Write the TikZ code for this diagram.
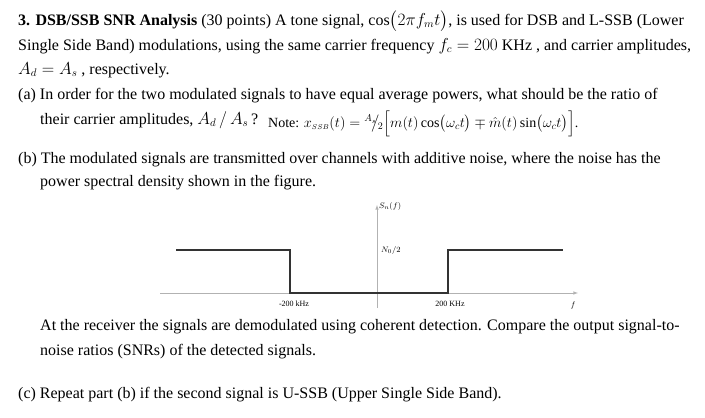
\documentclass[tikz,border=0pt]{standalone}
\usepackage{fontspec}
\setmainfont{Liberation Serif}
\usepackage{amsmath}
\begin{document}
\begin{tikzpicture}[x=1pt,y=-1pt,
  txt/.style={anchor=base west,inner sep=0pt,font=\fontsize{16}{19}\selectfont},
  sm/.style={inner sep=1pt,font=\fontsize{8}{9}\selectfont},
  ax/.style={gray!60,line width=0.6pt,-latex},
  sig/.style={black!80,line width=1.1pt}]
\useasboundingbox (0,0) rectangle (705,418);
\node[txt] (l1) at (18,25) {\textbf{3. DSB/SSB SNR Analysis} (30 points) A tone signal, $\cos\!\big(2\pi f_m t\big)$, is used for DSB and L-SSB (Lower};
\node[txt] (l2) at (18,50) {Single Side Band) modulations, using the same carrier frequency $f_c=200$ KHz , and carrier amplitudes,};
\node[txt] (l3) at (18,74) {$A_d=A_s$ , respectively.};
\node[txt] (l4) at (18,99) {(a) In order for the two modulated signals to have equal average powers, what should be the ratio of};
\node[txt] (l5) at (40,124) {their carrier amplitudes, $A_d\,/\,A_s$\,?};
\node[txt,font=\fontsize{14}{17}\selectfont] (l5b) at (268,127) {Note: $x_{\scriptscriptstyle SSB}(t)={}^{A_s}\!\!\big/\!{}_2\Big[m(t)\cos\!\big(\omega_c t\big)\mp\hat m(t)\sin\!\big(\omega_c t\big)\Big]$.};
\node[txt] (l6) at (18,163) {(b) The modulated signals are transmitted over channels with additive noise, where the noise has the};
\node[txt] (l7) at (40,186) {power spectral density shown in the figure.};
\node[txt] (l8) at (40,330) {At the receiver the signals are demodulated using coherent detection. Compare the output signal-to-};
\node[txt] (l9) at (40,355) {noise ratios (SNRs) of the detected signals.};
\node[txt] (l10) at (18,398) {(c) Repeat part (b) if the second signal is U-SSB (Upper Single Side Band).};
% plot
\coordinate (xs) at (160,293); \coordinate (xe) at (578,293);
\coordinate (ys) at (377,308); \coordinate (ye) at (377,205);
\draw[ax] (xs) -- (xe);
\draw[ax] (ys) -- (ye);
\draw[sig] (176,250) -- (290,250) -- (290,293) -- (448,293) -- (448,250) -- (563,250);
\node[sm,anchor=west] (sn) at (378,206) {$S_n(f)$};
\node[sm,anchor=west] (n0) at (380,250) {$N_0/2$};
\node[sm] (lm) at (294,304) {-200 kHz};
\node[sm] (lp) at (450,304) {200 KHz};
\node[sm] (lf) at (573,305) {$f$};
\end{tikzpicture}
\end{document}
